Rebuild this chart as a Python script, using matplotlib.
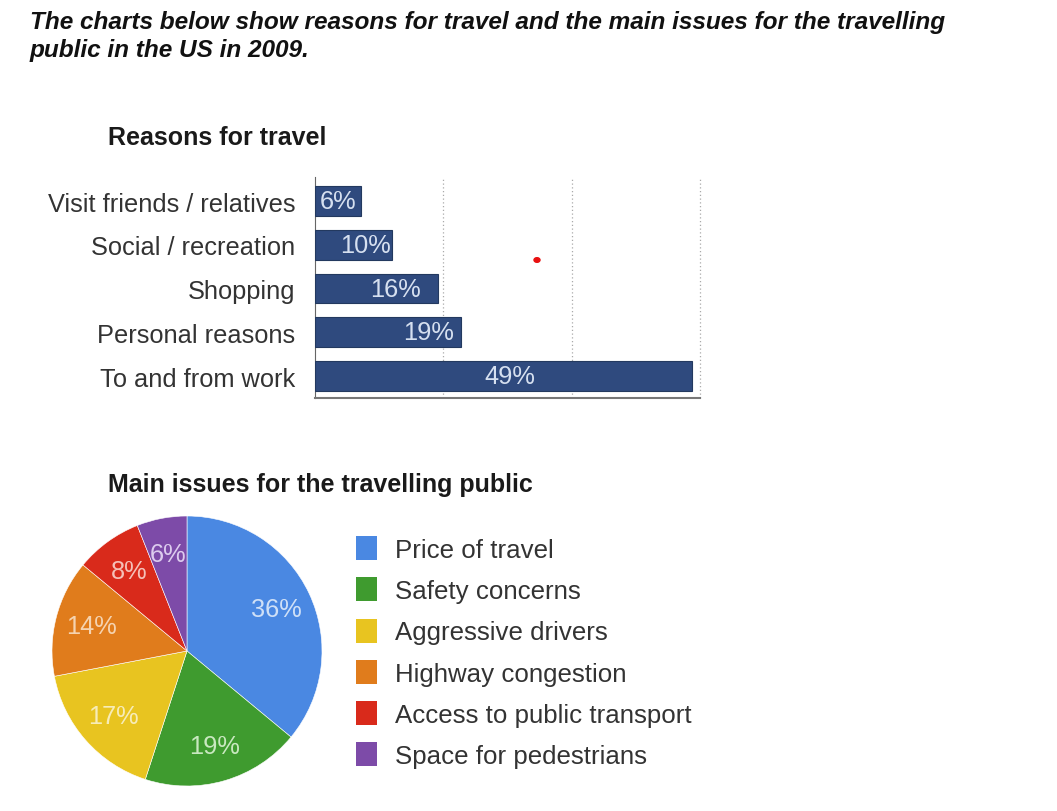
import matplotlib

matplotlib.use("Agg")

import matplotlib.pyplot as plt
from matplotlib.patches import Patch

plt.rcParams["font.family"] = ["Liberation Sans", "DejaVu Sans"]

W, H = 1057, 812

# --- data ---
reasons = ["Visit friends / relatives", "Social / recreation", "Shopping",
           "Personal reasons", "To and from work"]
reason_pct = [6, 10, 16, 19, 49]
# where the value text sits inside each bar (in % units along the axis)
reason_label_x = [3.0, 6.6, 10.5, 14.7, 25.3]

issues = ["Price of travel", "Safety concerns", "Aggressive drivers",
          "Highway congestion", "Access to public transport",
          "Space for pedestrians"]
issue_pct = [36, 19, 17, 14, 8, 6]
issue_colors = ["#4a88e2", "#3f9b2f", "#e8c420", "#e07c1c", "#d92a1b", "#7d4ba8"]
issue_text_colors = ["#cfe0f7", "#c9e8c0", "#f7ecb8", "#f5d3b0", "#f5c0b8", "#dccbee"]

BAR_COLOR = "#2f4a7e"
TEXT = "#333333"
FS = 18.3


def px_axes(left, top, right, bottom):
    """Figure-fraction rect from pixel box."""
    return [left / W, 1 - bottom / H, (right - left) / W, (bottom - top) / H]


fig = plt.figure(figsize=(W / 100, H / 100), dpi=100)
fig.patch.set_facecolor("white")

fig.text(30 / W, 1 - 22 / H,
         "The charts below show reasons for travel and the main issues for the travelling",
         fontsize=17.6, fontweight="bold", fontstyle="italic", color="#111111",
         va="center", ha="left")
fig.text(30 / W, 1 - 50 / H, "public in the US in 2009.",
         fontsize=17.6, fontweight="bold", fontstyle="italic", color="#111111",
         va="center", ha="left")

# --- bar chart ---
fig.text(108 / W, 1 - 138 / H, "Reasons for travel", fontsize=18,
         fontweight="bold", color="#1a1a1a", va="center", ha="left")

ax = fig.add_axes(px_axes(315, 178, 700, 399))
ypos = list(range(len(reasons)))
ax.barh(ypos, reason_pct, height=0.68, color=BAR_COLOR, edgecolor="#23395f",
        linewidth=0.8, zorder=3)
for y, v, lx in zip(ypos, reason_pct, reason_label_x):
    ax.text(lx, y, f"{v}%", color="#d6e0f0", fontsize=FS, ha="center",
            va="center", zorder=4)
ax.set_xlim(0, 50)
ax.set_ylim(4.5, -0.55)
ax.set_yticks(ypos)
ax.set_yticklabels(reasons, fontsize=FS, color=TEXT)
ax.tick_params(axis="y", length=0, pad=14)
ax.set_xticks([])
for gx in (50 / 3, 100 / 3, 50):
    ax.axvline(gx, color="#aaaaaa", linestyle=(0, (1, 2)), linewidth=0.9,
               zorder=0, clip_on=False)
for side in ("top", "right"):
    ax.spines[side].set_visible(False)
ax.spines["left"].set_color("#666666")
ax.spines["bottom"].set_color("#777777")
ax.spines["bottom"].set_linewidth(1.5)

# laser-pointer dot visible in the reference
fig.patches.append(plt.Circle((537 / W, 1 - 261 / H), 3 / W, color="#e81010",
                              transform=fig.transFigure, figure=fig))

# --- pie chart ---
fig.text(108 / W, 1 - 485 / H, "Main issues for the travelling public",
         fontsize=18, fontweight="bold", color="#1a1a1a", va="center", ha="left")

pax = fig.add_axes(px_axes(52, 517, 322, 787))
wedges, _, autotexts = pax.pie(
    issue_pct, colors=issue_colors, startangle=90, counterclock=False,
    autopct="%d%%", pctdistance=0.73, radius=1.0,
    wedgeprops=dict(edgecolor="white", linewidth=0.4),
    textprops=dict(fontsize=FS))
for t, c in zip(autotexts, issue_text_colors):
    t.set_color(c)
pax.set_xlim(-1, 1)
pax.set_ylim(-1, 1)
pax.set_aspect("equal")

handles = [Patch(facecolor=c, edgecolor="none") for c in issue_colors]
leg = fig.legend(handles, issues, loc="upper left",
                 bbox_to_anchor=(356 / W, 1 - 537 / H), frameon=False,
                 fontsize=18.6, handlelength=0.8, handleheight=1.05,
                 handletextpad=0.7, labelspacing=0.6, borderaxespad=0,
                 borderpad=0)
for t in leg.get_texts():
    t.set_color(TEXT)

fig.savefig("out.png", dpi=100, facecolor="white")
